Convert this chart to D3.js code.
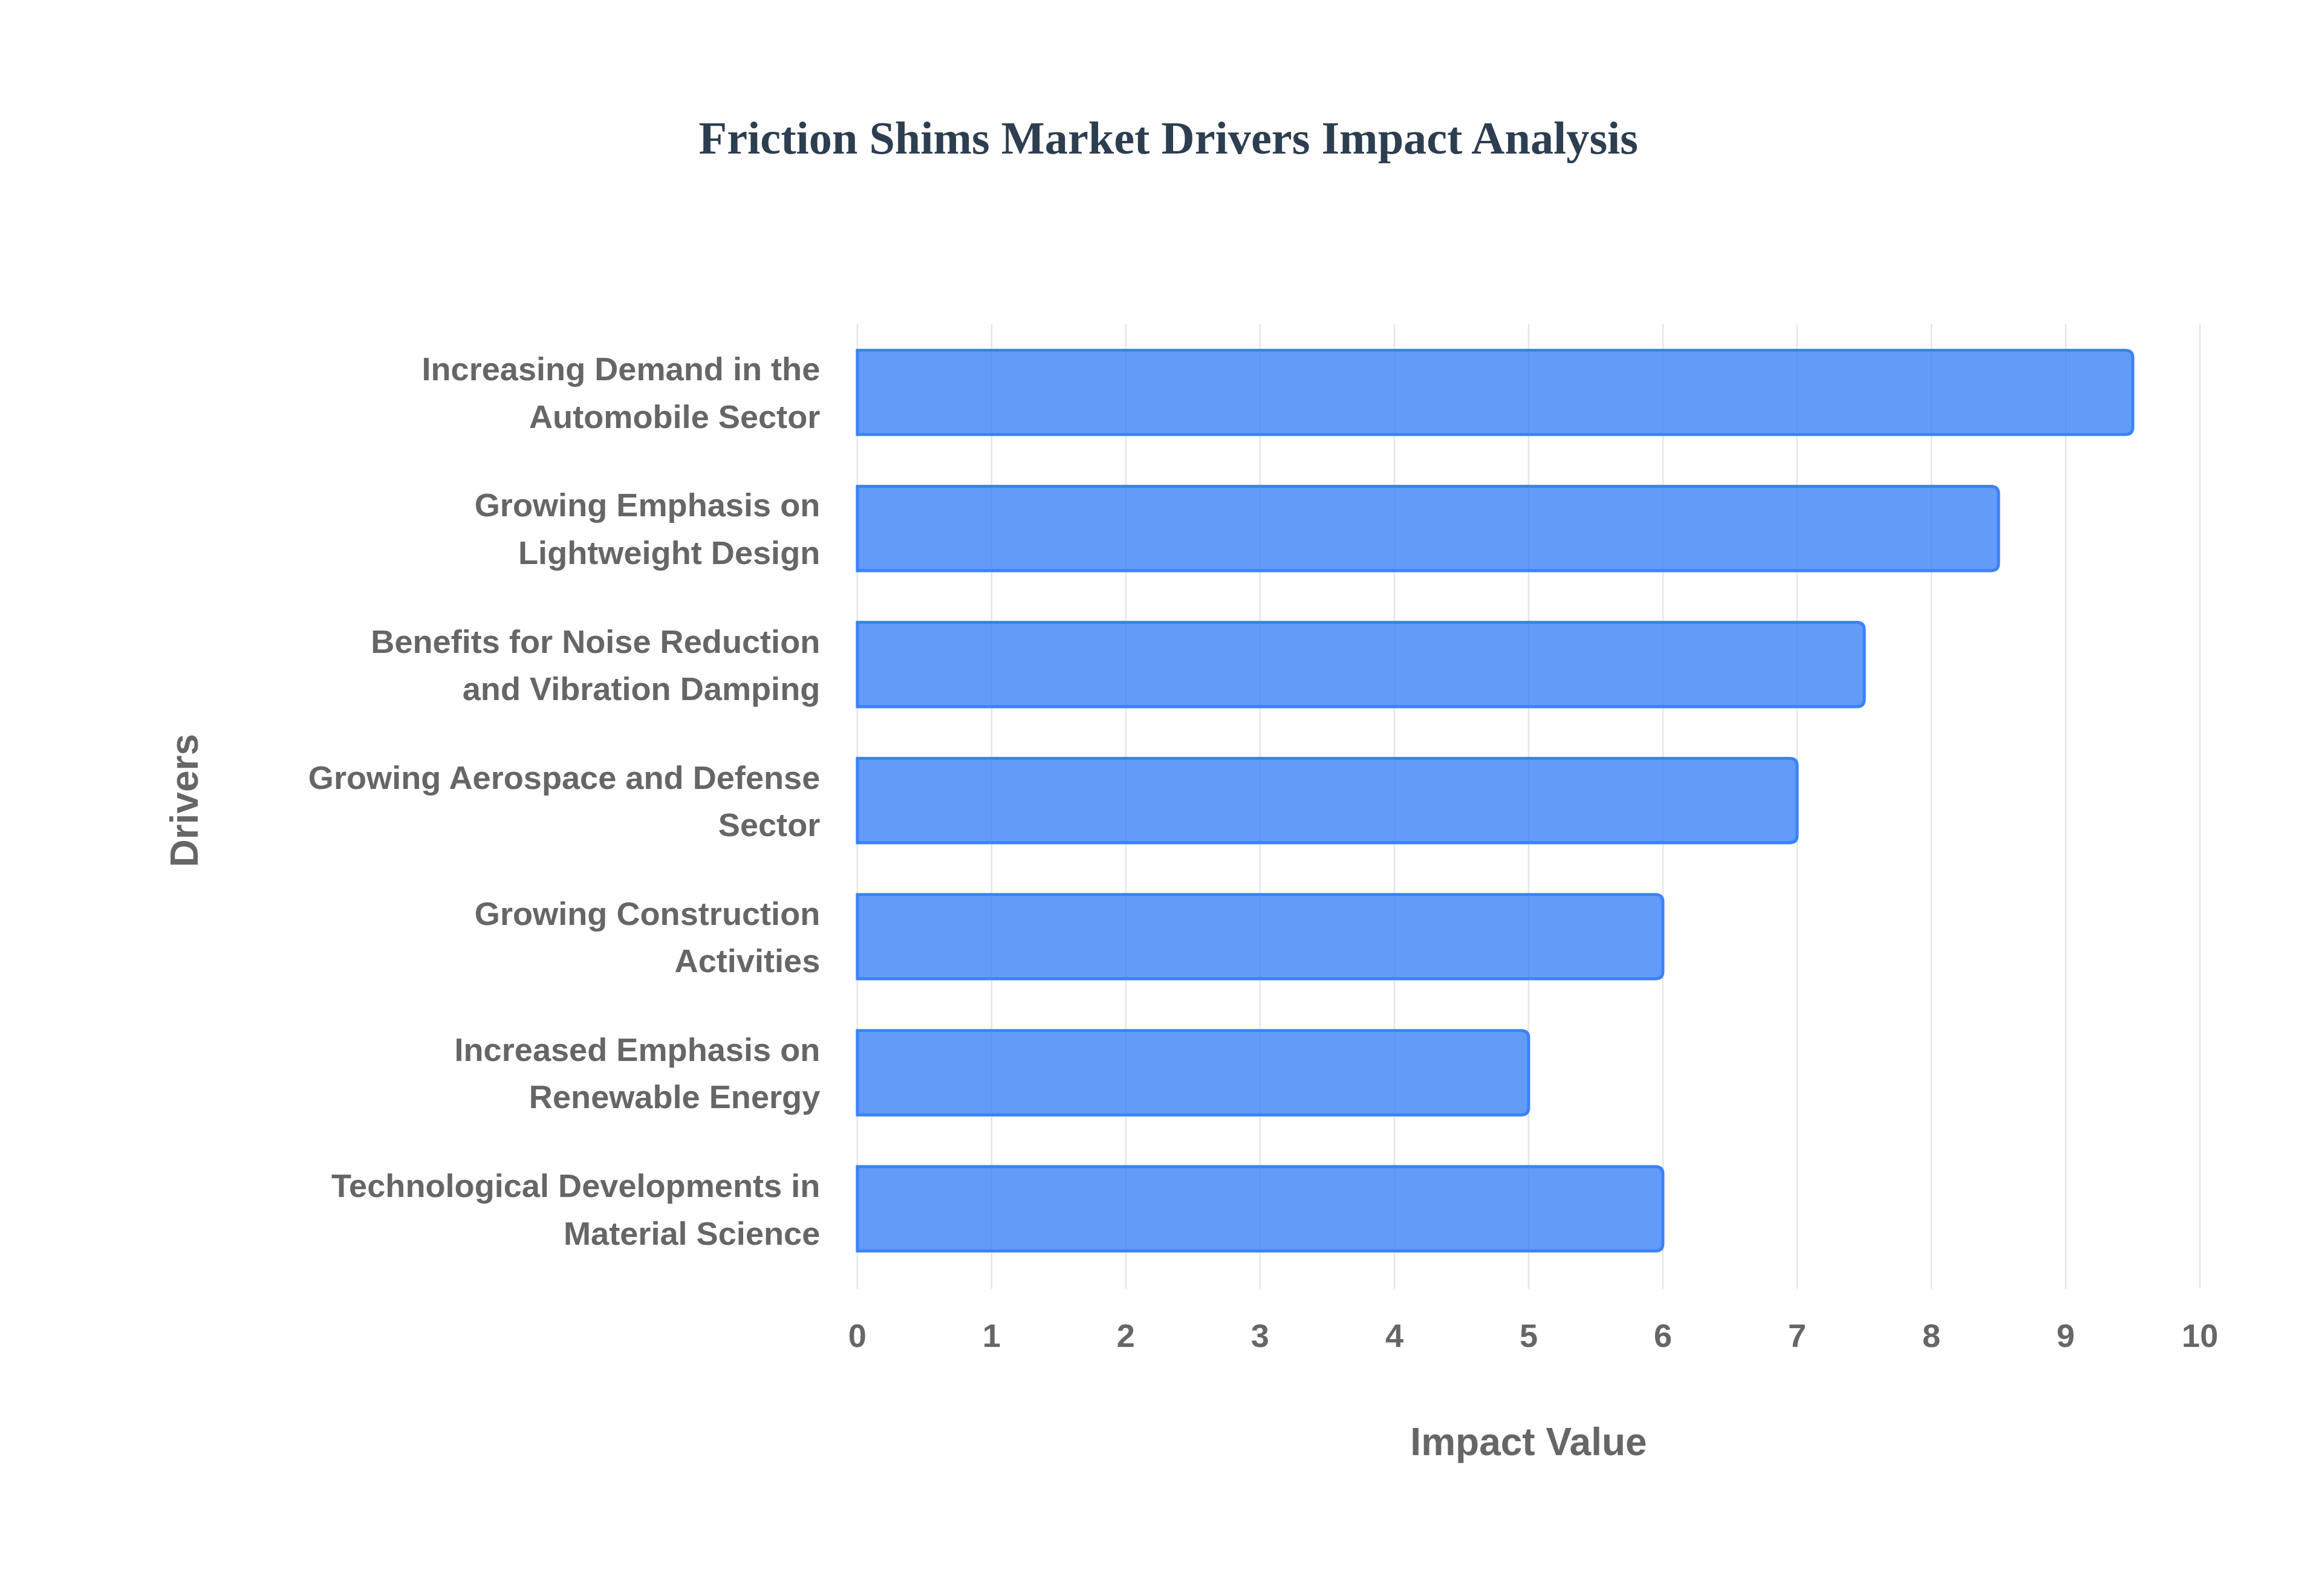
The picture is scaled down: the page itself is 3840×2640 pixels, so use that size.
<!DOCTYPE html>
<html><head><meta charset="utf-8">
<script src="https://cdn.jsdelivr.net/npm/d3@7"></script>
<style>body{margin:0;background:#fff}</style>
</head><body>
<svg id="chart"></svg>
<script>
const drivers = [
  ["Increasing Demand in the", "Automobile Sector"],
  ["Growing Emphasis on", "Lightweight Design"],
  ["Benefits for Noise Reduction", "and Vibration Damping"],
  ["Growing Aerospace and Defense", "Sector"],
  ["Growing Construction", "Activities"],
  ["Increased Emphasis on", "Renewable Energy"],
  ["Technological Developments in", "Material Science"]
]
const impacts = [9.5, 8.5, 7.5, 7, 6, 5, 6]
const ticks = [0, 1, 2, 3, 4, 5, 6, 7, 8, 9, 10]

const W = 1560, H = 1072.5
const svg = d3.select("#chart")
    .attr("width", 3840).attr("height", 2640)
    .attr("viewBox", `0 0 ${W} ${H}`)

const m = {left: 576, right: 1478, top: 218, bottom: 858}
const x = d3.scaleLinear().domain([0, 10]).range([m.left, m.right])
const y = d3.scaleBand().domain(d3.range(drivers.length)).range([m.top, m.bottom]).paddingInner(0.38).paddingOuter(0.19)

// grid
svg.append("g").selectAll("line").data(ticks).join("line")
    .attr("x1", d => x(d)).attr("x2", d => x(d))
    .attr("y1", m.top).attr("y2", m.bottom + 8)
    .attr("stroke", "#e5e5e5").attr("stroke-width", 1)

// bars
svg.append("g").selectAll("path").data(impacts).join("path")
    .attr("d", (d, i) => {
        const x0 = x(0), x1 = x(d), y0 = y(i), h = y.bandwidth(), r = 5
        return `M${x0},${y0}H${x1 - r}Q${x1},${y0} ${x1},${y0 + r}V${y0 + h - r}Q${x1},${y0 + h} ${x1 - r},${y0 + h}H${x0}Z`
    })
    .attr("fill", "rgba(59,130,246,0.8)")
    .attr("stroke", "#3b82f6").attr("stroke-width", 2)

const font = "'Liberation Sans', Arial, sans-serif"

// x tick labels
svg.append("g").selectAll("text").data(ticks).join("text")
    .attr("x", d => x(d)).attr("y", 905)
    .attr("text-anchor", "middle")
    .attr("font-family", font).attr("font-weight", "bold").attr("font-size", 22)
    .attr("fill", "#666").text(d => d)

// y labels
const yl = svg.append("g").selectAll("text").data(drivers).join("text")
    .attr("text-anchor", "end")
    .attr("font-family", font).attr("font-weight", "bold").attr("font-size", 22)
    .attr("fill", "#666")
yl.each(function (d, i) {
    const c = y(i) + y.bandwidth() / 2
    d3.select(this).selectAll("tspan").data(d).join("tspan")
        .attr("x", 551).attr("y", (t, j) => c - 8 + j * 32)
        .text(t => t)
})

// axis titles
svg.append("text").attr("x", 1027).attr("y", 978)
    .attr("text-anchor", "middle")
    .attr("font-family", font).attr("font-weight", "bold").attr("font-size", 26)
    .attr("fill", "#666").text("Impact Value")
svg.append("text").attr("transform", "translate(133,538) rotate(-90)")
    .attr("text-anchor", "middle")
    .attr("font-family", font).attr("font-weight", "bold").attr("font-size", 26)
    .attr("fill", "#666").text("Drivers")

// title
svg.append("text").attr("x", 785).attr("y", 103)
    .attr("text-anchor", "middle")
    .attr("font-family", "'Liberation Serif', 'Times New Roman', serif")
    .attr("font-weight", "bold").attr("font-size", 31)
    .attr("fill", "#2c3e50").text("Friction Shims Market Drivers Impact Analysis")
</script>
</body></html>
